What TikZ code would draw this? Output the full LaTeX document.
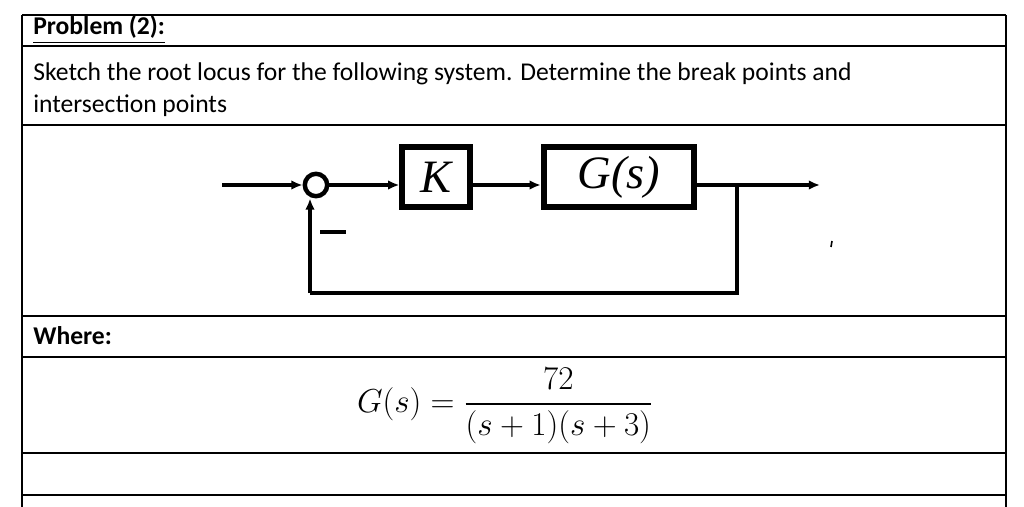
\documentclass[tikz,border=0pt]{standalone}
\usepackage{fontspec}
\setmainfont{Carlito}
\usepackage{amsmath}
\usetikzlibrary{arrows.meta}
\begin{document}
\begin{tikzpicture}[x=0.625pt,y=-0.625pt,
  grid/.style={line width=1.5pt},
  blk/.style={draw,line width=3.8pt,minimum height=38pt,inner sep=0pt},
  sig/.style={line width=2.6pt,-{Latex[length=7pt,width=6pt]}},
  wire/.style={line width=2.6pt},
  txt/.style={anchor=west,inner sep=0pt,font=\fontsize{16}{20}\selectfont}]
\useasboundingbox (0,0) rectangle (1024,507);
% table
\draw[grid] (22,15) -- (1006,15);
\draw[grid] (22,46) -- (1006,46);
\draw[grid] (22,125) -- (1006,125);
\draw[grid] (22,316) -- (1006,316);
\draw[grid] (22,357) -- (1006,357);
\draw[grid] (22,453) -- (1006,453);
\draw[grid] (22,495) -- (1006,495);
\draw[grid] (22,15) -- (22,507);
\draw[grid] (1006,15) -- (1006,507);
% texts
\node[txt] (p) at (33,30) {\textbf{\underline{Problem (2):}}};
\node[txt,align=left,anchor=north west] (s) at (33,62) {Sketch the root locus for the following system. Determine the break points and\\intersection points};
\node[txt] (w) at (33,336) {\textbf{Where:}};
\node (eq) at (505,406) {\fontsize{21}{26}\selectfont $G(s)=\dfrac{72}{(s+1)(s+3)}$};
% block diagram
\coordinate (in) at (222,185);
\node[draw,circle,line width=2.8pt,minimum size=14pt,inner sep=0pt] (sum) at (316,185) {};
\node[blk,minimum width=42pt] (K) at (436,177) {\fontsize{29}{30}\selectfont\fontspec{Liberation Serif}\itshape K};
\node[blk,minimum width=94pt] (G) at (619,177) {\fontsize{29}{30}\selectfont\fontspec{Liberation Serif}\itshape G(s)};
\coordinate (br) at (737,185);
\coordinate (out) at (820,185);
\coordinate (fb1) at (737,293);
\coordinate (fb2) at (310,293);
\draw[sig] (in) -- (sum.west);
\draw[sig] (sum.east) -- (K.west|-sum);
\draw[sig] (K.east|-sum) -- (G.west|-sum);
\draw[sig] (G.east|-sum) -- (out);
\draw[wire] (br) -- (fb1) -- (fb2);
\draw[sig] (fb2) -- (fb2|-sum.south);
\draw[line width=2.8pt] (320,232) -- (346,232);
\draw[line width=1pt] (832,241) -- (831,247);
\end{tikzpicture}
\end{document}
